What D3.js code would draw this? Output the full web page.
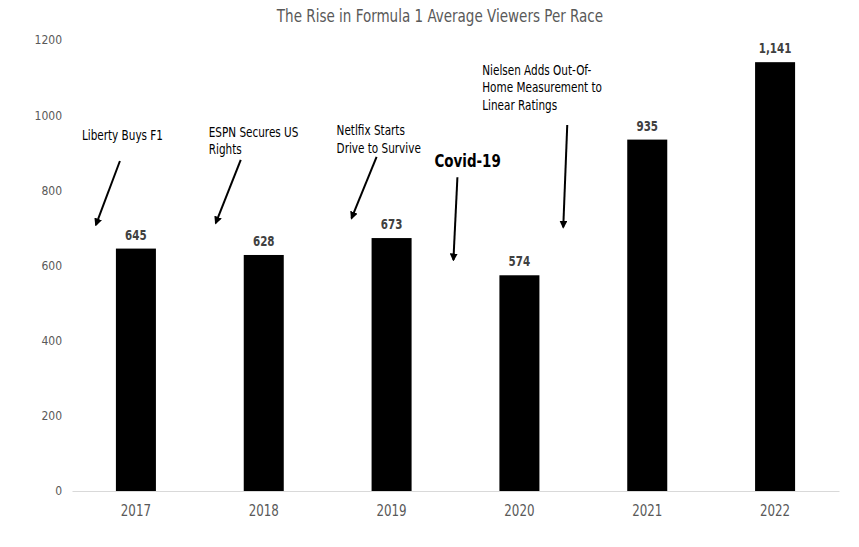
<!DOCTYPE html>
<html><head><meta charset="utf-8">
<script src="https://cdn.jsdelivr.net/npm/d3@7"></script>
<style>
body{margin:0;background:#fff;}
text{font-family:"Liberation Sans Narrow","DejaVu Sans Condensed","Roboto Condensed",sans-serif;}
</style></head>
<body><svg id="c" width="859" height="547"></svg>
<script>
const years = ["2017","2018","2019","2020","2021","2022"];
const viewers = [645, 628, 673, 574, 935, 1141];
const valueLabels = ["645","628","673","574","935","1,141"];
const yTicks = [0, 200, 400, 600, 800, 1000, 1200];
const title = "The Rise in Formula 1 Average Viewers Per Race";
const annYears = ["2017","2018","2019","2020","2021"];
const annLines = [["Liberty Buys F1"],["ESPN Secures US","Rights"],["Netlfix Starts","Drive to Survive"],["Covid-19"],["Nielsen Adds Out-Of-","Home Measurement to","Linear Ratings"]];
const annBold = [false,false,false,true,false];
const annTextValue = [935, 942, 947, 862, 1107];
const annTailValue = [878, 881, 889, 835, 974];
const annTipValue = [708, 713, 726, 615, 702];

const svg = d3.select("#c");
const x = d3.scaleBand().domain(years).range([72, 839]).paddingInner(0.687).paddingOuter(0.3435);
const y = d3.scaleLinear().domain([0, 1200]).range([491, 40]);

function squeeze(sel, sx){
  sel.each(function(){
    const t = d3.select(this);
    const xx = +t.attr("x") || 0;
    const prev = t.attr("transform") || "";
    t.attr("transform", prev + ` translate(${xx},0) scale(${sx},1) translate(${-xx},0)`);
  });
}

svg.append("defs").append("marker").attr("id","ah").attr("viewBox","0 0 10 10")
  .attr("refX",8).attr("refY",5).attr("markerWidth",4).attr("markerHeight",4).attr("orient","auto")
  .append("path").attr("d","M0,0L10,5L0,10z").attr("fill","#000");

squeeze(svg.append("text").attr("x",440).attr("y",22).attr("text-anchor","middle")
  .attr("font-size",17).attr("fill","#595959").text(title), 0.884);

// y axis labels
const ya = svg.append("g").attr("transform","translate(62,0)")
  .call(d3.axisLeft(y).tickValues(yTicks).tickSize(0).tickPadding(0).tickFormat(d3.format("d")));
ya.select(".domain").remove();
ya.selectAll("text").attr("font-size",12).attr("fill","#595959").attr("font-family",null);

// x axis
const xa = svg.append("g").attr("transform","translate(0,491)")
  .call(d3.axisBottom(x).tickSize(0).tickPadding(14));
xa.select(".domain").attr("stroke","#d9d9d9").attr("stroke-width",1.2);
xa.selectAll("text").attr("font-size",15).attr("fill","#595959").attr("font-family",null)
  .attr("transform","scale(0.88,1)");

// bars
svg.append("g").selectAll("rect").data(years).join("rect")
  .attr("x",d=>x(d)).attr("width",x.bandwidth())
  .attr("y",(d,i)=>y(viewers[i])).attr("height",(d,i)=>y(0)-y(viewers[i]))
  .attr("fill","#000");

// value labels
squeeze(svg.append("g").selectAll("text").data(years).join("text")
  .attr("x",d=>x(d)+x.bandwidth()/2).attr("y",(d,i)=>y(viewers[i])-9)
  .attr("text-anchor","middle").attr("font-size",14).attr("font-weight","bold")
  .attr("fill","#404040").text((d,i)=>valueLabels[i]), 0.82);

// annotations
const textDx = [-54,-55,-55,-85,-165];
const tailDx = [-16,-23,-15,-62,-80];
const tipDx = [-40,-48,-40,-66,-84];
annYears.forEach((yr,i)=>{
  const cx = x(yr)+x.bandwidth()/2;
  const t = svg.append("text").attr("x",cx+textDx[i]).attr("y",y(annTextValue[i]))
    .attr("font-size",annBold[i]?17:14).attr("font-weight",annBold[i]?"bold":"normal").attr("fill","#000");
  annLines[i].forEach((l,j)=>t.append("tspan").attr("x",cx+textDx[i]).attr("dy",j?17.5:0).text(l));
  squeeze(t, annBold[i]?0.88:0.83);
  svg.append("line").attr("x1",cx+tailDx[i]).attr("y1",y(annTailValue[i]))
    .attr("x2",cx+tipDx[i]).attr("y2",y(annTipValue[i]))
    .attr("stroke","#000").attr("stroke-width",2).attr("marker-end","url(#ah)");
});
</script></body></html>
